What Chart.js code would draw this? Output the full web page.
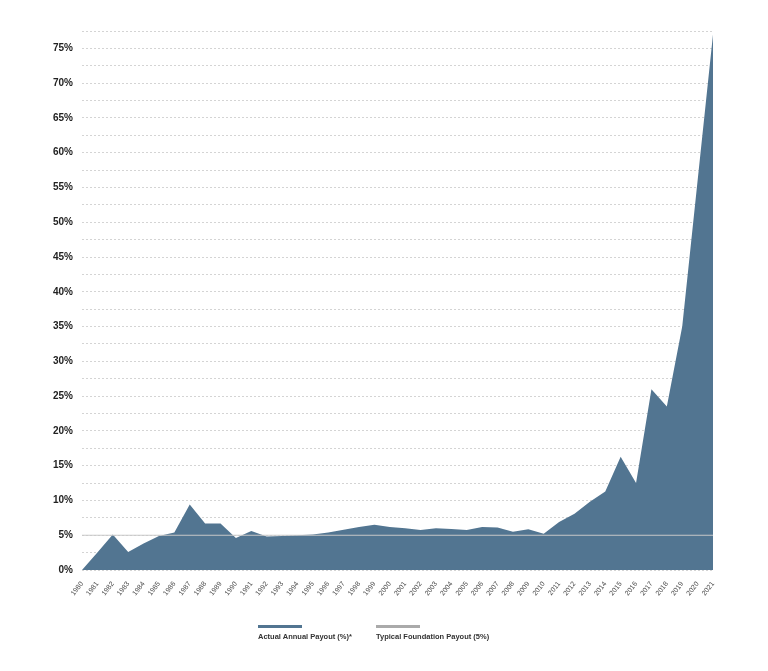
<!DOCTYPE html>
<html>
<head>
<meta charset="utf-8">
<script src="https://cdn.jsdelivr.net/npm/chart.js@4/dist/chart.umd.min.js"></script>
<style>
  html, body { margin: 0; padding: 0; background: #fff; }
  .wrap { position: relative; width: 768px; height: 671px; }
  .legend-item { position: absolute; top: 625px; font-family: "Liberation Sans", Arial, sans-serif; font-size: 7.5px; font-weight: bold; color: #333; }
  .legend-swatch { width: 44px; height: 3px; margin-bottom: 4px; }
</style>
</head>
<body>
<div class="wrap">
  <canvas id="payoutChart" width="768" height="671"></canvas>
  <div class="legend-item" style="left:258px"><div class="legend-swatch" style="background:#527591"></div>Actual Annual Payout (%)*</div>
  <div class="legend-item" style="left:376px"><div class="legend-swatch" style="background:#aaaaaa"></div>Typical Foundation Payout (5%)</div>
</div>
<script>
const years = ['1980','1981','1982','1983','1984','1985','1986','1987','1988','1989',
  '1990','1991','1992','1993','1994','1995','1996','1997','1998','1999',
  '2000','2001','2002','2003','2004','2005','2006','2007','2008','2009',
  '2010','2011','2012','2013','2014','2015','2016','2017','2018','2019',
  '2020','2021'];
const actualPayout = [0, 2.5, 5.1, 2.6, 3.8, 4.9, 5.4, 9.4, 6.7, 6.7,
  4.6, 5.6, 4.8, 4.9, 5.0, 5.1, 5.4, 5.8, 6.2, 6.5,
  6.2, 6.0, 5.75, 6.0, 5.9, 5.75, 6.2, 6.1, 5.5, 5.85,
  5.2, 6.9, 8.1, 9.8, 11.3, 16.3, 12.5, 26, 23.5, 35,
  56, 77];
const typicalPayout = years.map(() => 5);
const yMax = 77.5;
const yStep = 2.5;

new Chart(document.getElementById('payoutChart'), {
  type: 'line',
  data: {
    labels: years,
    datasets: [
      { label: 'Typical Foundation Payout (5%)', data: typicalPayout, borderColor: '#c8c8c8', borderWidth: 1.2, pointRadius: 0, fill: false, order: 0 },
      { label: 'Actual Annual Payout (%)*', data: actualPayout, backgroundColor: '#527591', borderWidth: 0, pointRadius: 0, tension: 0, fill: 'origin', order: 1 }
    ]
  },
  options: {
    responsive: false,
    animation: false,
    layout: { padding: { top: 31, right: 55, bottom: 61, left: 0 } },
    plugins: { legend: { display: false }, tooltip: { enabled: false } },
    scales: {
      x: {
        grid: { display: false },
        border: { display: false },
        ticks: { color: '#444', font: { family: 'Liberation Sans', size: 7 }, minRotation: 52, maxRotation: 52, autoSkip: false, padding: 2 },
        afterFit: s => { s.height = 40; }
      },
      y: {
        min: 0, max: yMax,
        grid: { color: '#d4d4d4', lineWidth: 1, drawTicks: false },
        border: { display: false, dash: [2, 2] },
        ticks: {
          stepSize: yStep, padding: 9, color: '#222',
          font: { family: 'Liberation Sans', size: 10, weight: 'bold' },
          callback: v => (Math.round(v * 10) % 50 === 0 ? v + '%' : '')
        },
        afterFit: s => { s.width = 82; }
      }
    }
  }
});
</script>
</body>
</html>
